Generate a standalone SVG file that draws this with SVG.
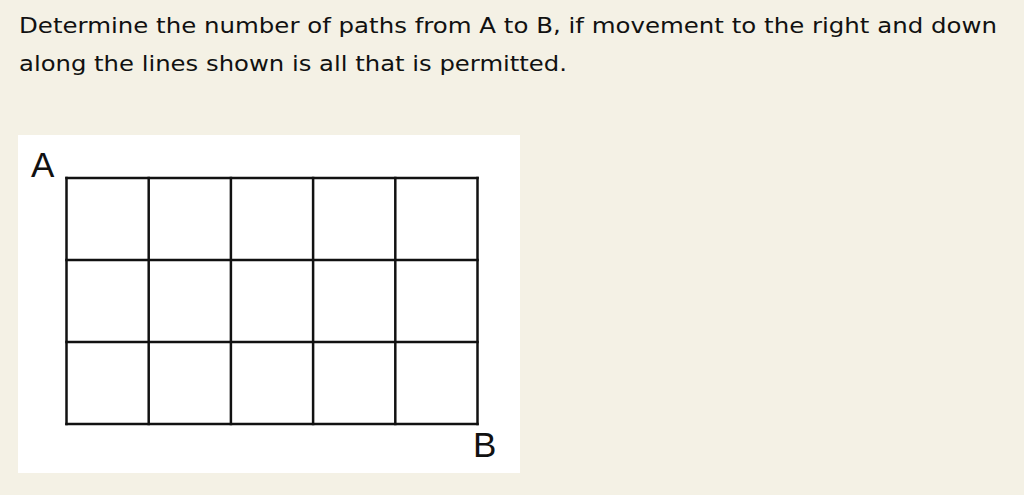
<svg xmlns="http://www.w3.org/2000/svg" width="1024" height="495" viewBox="0 0 1024 495">
<style>
.q{font-family:"DejaVu Sans",Verdana,sans-serif;font-size:22px;fill:#111}
.lbl{font-family:"Liberation Sans",Arial,sans-serif;font-size:35px;fill:#111}
.g{stroke:#111;stroke-width:2.5;fill:none;stroke-linecap:square}
</style>
<rect width="1024" height="495" fill="#f4f1e5"/>
<text class="q" x="19" y="33" textLength="978" lengthAdjust="spacingAndGlyphs">Determine the number of paths from A to B, if movement to the right and down</text>
<text class="q" x="19" y="71" textLength="548" lengthAdjust="spacingAndGlyphs">along the lines shown is all that is permitted.</text>
<rect x="18" y="135" width="502" height="338" fill="#ffffff"/>
<g id="labelA"><text class="lbl" x="31" y="177">A</text></g>
<g id="labelB"><text class="lbl" x="473" y="457">B</text></g>
<g id="connectors" class="g">
<line x1="66.5" y1="178" x2="477.5" y2="178"/>
<line x1="66.5" y1="260" x2="477.5" y2="260"/>
<line x1="66.5" y1="342" x2="477.5" y2="342"/>
<line x1="66.5" y1="424" x2="477.5" y2="424"/>
<line x1="66.5" y1="178" x2="66.5" y2="424"/>
<line x1="148.7" y1="178" x2="148.7" y2="424"/>
<line x1="230.9" y1="178" x2="230.9" y2="424"/>
<line x1="313.1" y1="178" x2="313.1" y2="424"/>
<line x1="395.3" y1="178" x2="395.3" y2="424"/>
<line x1="477.5" y1="178" x2="477.5" y2="424"/>
</g>
</svg>
